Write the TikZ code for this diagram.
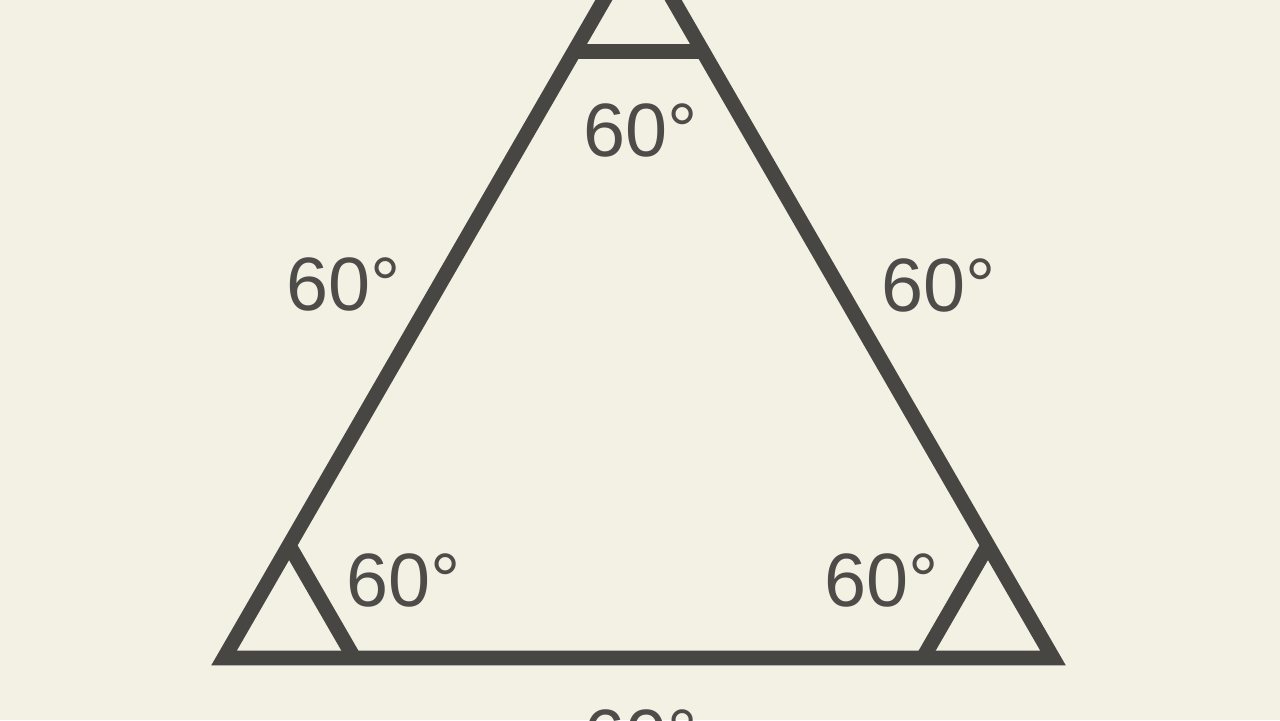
\documentclass[tikz,border=0pt]{standalone}
\usepackage{fontspec}
\setmainfont{Liberation Sans}
\usetikzlibrary{calc}
\definecolor{fond}{HTML}{F3F0E4}
\definecolor{encre}{HTML}{474642}
\definecolor{texte}{HTML}{4D4C48}

\tikzset{cote/.style = {draw = encre, line width = 4.2pt, line join = miter},
         etiquette/.style = {text = texte, inner sep = 0pt,
                             font = \fontsize{21.5}{26}\selectfont},
         coin/.style = {cote, line cap = butt}
        }

\begin{document}
\begin{tikzpicture}[x=0.01cm, y=-0.01cm]
  \fill[fond] (0,0) rectangle (1280,720);
  \useasboundingbox (0,0) rectangle (1280,720);
  \clip (0,0) rectangle (1280,720);
  \coordinate (A) at (638.5,-60);
  \coordinate (B) at (224,658);
  \coordinate (C) at (1053,658);
  \draw[cote] (A) -- (B) -- (C) -- cycle;
  % petits triangles aux sommets
  \coordinate (A1) at ($(A)!0.155!(B)$);
  \coordinate (A2) at ($(A)!0.155!(C)$);
  \coordinate (B1) at ($(B)!0.157!(A)$);
  \coordinate (B2) at ($(B)!0.157!(C)$);
  \coordinate (C1) at ($(C)!0.157!(A)$);
  \coordinate (C2) at ($(C)!0.157!(B)$);
  \draw[coin] (A1) -- (A2);
  \draw[coin] (B1) -- (B2);
  \draw[coin] (C1) -- (C2);
  % angles
  \node[etiquette] (haut)     at (641,130) {60°};
  \node[etiquette] (gauche)   at (344,284) {60°};
  \node[etiquette] (droite)   at (939,285) {60°};
  \node[etiquette] (basg)     at (404,580) {60°};
  \node[etiquette] (basd)     at (882,580) {60°};
  \node[etiquette] (bas)      at (641,736) {60°};
\end{tikzpicture}
\end{document}
